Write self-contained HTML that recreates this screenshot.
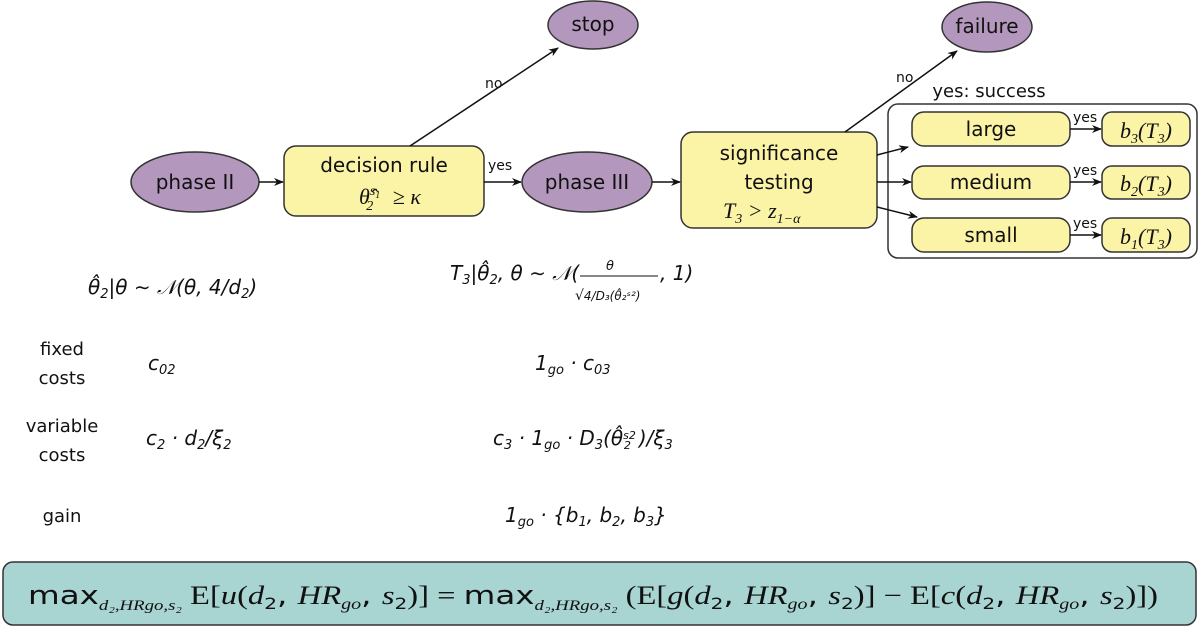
<!DOCTYPE html>
<html><head><meta charset="utf-8"><style>
html,body{margin:0;padding:0;background:#fff;width:1200px;height:629px;overflow:hidden}
svg{display:block}
text{font-family:"DejaVu Sans","Liberation Sans",sans-serif;fill:#111}
.m{font-family:"Liberation Serif","DejaVu Serif",serif;font-style:italic}
.r{font-family:"Liberation Serif","DejaVu Serif",serif}
</style></head><body>
<svg width="1200" height="629" viewBox="0 0 1200 629" xmlns="http://www.w3.org/2000/svg">
<defs><marker id="a" markerWidth="10" markerHeight="8" refX="9" refY="4" orient="auto" markerUnits="userSpaceOnUse"><path d="M0,0 L10,4 L0,8 L3,4 z" fill="#111"/></marker></defs>
<g stroke="#333" stroke-width="1.5">
<ellipse cx="195" cy="182" rx="64" ry="30" fill="#b497bd"/>
<rect x="284" y="146" width="200" height="70" rx="12" fill="#fbf3a5"/>
<ellipse cx="587" cy="182" rx="65" ry="30" fill="#b497bd"/>
<ellipse cx="593" cy="25" rx="45" ry="24" fill="#b497bd"/>
<rect x="681" y="132" width="196" height="96" rx="12" fill="#fbf3a5"/>
<ellipse cx="987" cy="27" rx="45" ry="25" fill="#b497bd"/>
<rect x="888" y="104" width="309" height="154" rx="10" fill="#fff"/>
<rect x="912" y="112" width="158" height="34" rx="12" fill="#fbf3a5"/>
<rect x="912" y="166" width="158" height="33" rx="12" fill="#fbf3a5"/>
<rect x="912" y="218" width="158" height="34" rx="12" fill="#fbf3a5"/>
<rect x="1102" y="112" width="88" height="34" rx="10" fill="#fbf3a5"/>
<rect x="1102" y="166" width="88" height="33" rx="10" fill="#fbf3a5"/>
<rect x="1102" y="218" width="88" height="34" rx="10" fill="#fbf3a5"/>
<rect x="3" y="562" width="1193" height="63" rx="10" fill="#a8d4d2"/>
</g>
<g stroke="#111" stroke-width="1.5" marker-end="url(#a)">
<line x1="259" y1="182" x2="283" y2="182"/>
<line x1="484" y1="182" x2="521" y2="182"/>
<line x1="410" y1="146" x2="558" y2="48"/>
<line x1="652" y1="182" x2="680" y2="182"/>
<line x1="845" y1="132" x2="957" y2="51"/>
<line x1="877" y1="155" x2="908" y2="147"/>
<line x1="877" y1="182" x2="911" y2="182"/>
<line x1="877" y1="207" x2="917" y2="217"/>
<line x1="1070" y1="129" x2="1101" y2="129"/>
<line x1="1070" y1="182" x2="1101" y2="182"/>
<line x1="1070" y1="235" x2="1101" y2="235"/>
</g>
<g font-size="20" text-anchor="middle">
<text x="195" y="189">phase II</text>
<text x="384" y="172">decision rule</text>
<text x="587" y="189">phase III</text>
<text x="593" y="31">stop</text>
<text x="779" y="160">significance</text>
<text x="779" y="189">testing</text>
<text x="987" y="33">failure</text>
<text x="991" y="136">large</text>
<text x="991" y="189">medium</text>
<text x="991" y="242">small</text>
<text x="989" y="97" font-size="18">yes: success</text>
</g>
<g font-size="14">
<text x="485" y="88">no</text><text x="488" y="170">yes</text>
<text x="896" y="82">no</text>
<text x="1073" y="122">yes</text><text x="1073" y="175">yes</text><text x="1073" y="228">yes</text>
</g>
<g font-size="22">
<text x="359" y="204" class="m">θ̂<tspan font-size="14" dy="-9">s</tspan><tspan font-size="10" dy="3">1</tspan><tspan font-size="14" dx="-14" dy="12" class="r">2</tspan><tspan dy="-6" dx="14" class="r">  ≥  κ</tspan></text>
<text x="723" y="218" class="m">T<tspan font-size="14" dy="5" class="r">3</tspan><tspan dy="-5" class="r">  &gt;  </tspan>z<tspan font-size="14" dy="5" class="r">1−α</tspan></text>
<text x="1146" y="138" text-anchor="middle" class="m">b<tspan font-size="14" dy="5">3</tspan><tspan dy="-5">(T</tspan><tspan font-size="14" dy="5">3</tspan><tspan dy="-5">)</tspan></text>
<text x="1146" y="191" text-anchor="middle" class="m">b<tspan font-size="14" dy="5">2</tspan><tspan dy="-5">(T</tspan><tspan font-size="14" dy="5">3</tspan><tspan dy="-5">)</tspan></text>
<text x="1146" y="244" text-anchor="middle" class="m">b<tspan font-size="14" dy="5">1</tspan><tspan dy="-5">(T</tspan><tspan font-size="14" dy="5">3</tspan><tspan dy="-5">)</tspan></text>
</g>
<g font-size="20" class="m">
<text x="88" y="294">θ̂<tspan font-size="13" dy="4">2</tspan><tspan dy="-4">|θ ∼ 𝒩(θ, 4/d</tspan><tspan font-size="13" dy="4">2</tspan><tspan dy="-4">)</tspan></text>
<text x="450" y="280">T<tspan font-size="13" dy="4">3</tspan><tspan dy="-4">|θ̂</tspan><tspan font-size="13" dy="4">2</tspan><tspan dy="-4">, θ ∼ 𝒩(</tspan></text>
<text x="660" y="280">, 1)</text>
<text x="610" y="270" font-size="13" text-anchor="middle">θ</text>
<line x1="580" y1="276" x2="658" y2="276" stroke="#111" stroke-width="1"/>
<text x="575" y="300" font-size="14">√<tspan font-size="12">4/D₃(θ̂₂ˢ²)</tspan></text>
<text x="148" y="370">c<tspan font-size="13" dy="4">02</tspan></text>
<text x="535" y="370">1<tspan font-size="13" dy="4">go</tspan><tspan dy="-4"> · c</tspan><tspan font-size="13" dy="4">03</tspan></text>
<text x="146" y="445">c<tspan font-size="13" dy="4">2</tspan><tspan dy="-4"> · d</tspan><tspan font-size="13" dy="4">2</tspan><tspan dy="-4">/ξ</tspan><tspan font-size="13" dy="4">2</tspan></text>
<text x="493" y="445">c<tspan font-size="13" dy="4">3</tspan><tspan dy="-4"> · 1</tspan><tspan font-size="13" dy="4">go</tspan><tspan dy="-4"> · D</tspan><tspan font-size="13" dy="4">3</tspan><tspan dy="-4">(θ̂</tspan><tspan font-size="11" dy="-6">s2</tspan><tspan font-size="11" dx="-12" dy="10">2</tspan><tspan dy="-4" dx="8">)/ξ</tspan><tspan font-size="13" dy="4">3</tspan></text>
<text x="505" y="522">1<tspan font-size="13" dy="4">go</tspan><tspan dy="-4"> · {b</tspan><tspan font-size="13" dy="4">1</tspan><tspan dy="-4">, b</tspan><tspan font-size="13" dy="4">2</tspan><tspan dy="-4">, b</tspan><tspan font-size="13" dy="4">3</tspan><tspan dy="-4">}</tspan></text>
</g>
<g font-size="18" text-anchor="middle">
<text x="62" y="355">fixed</text><text x="62" y="384">costs</text>
<text x="62" y="432">variable</text><text x="62" y="461">costs</text>
<text x="62" y="522">gain</text>
</g>
<text x="28" y="604" font-size="26" textLength="1130" lengthAdjust="spacingAndGlyphs">max<tspan font-size="15" dy="6" class="m">d₂,HRgo,s₂</tspan><tspan dy="-6" class="r"> E[</tspan><tspan class="m">u</tspan><tspan class="r">(</tspan><tspan class="m">d</tspan><tspan font-size="16" dy="5">2</tspan><tspan dy="-5">, </tspan><tspan class="m">HR</tspan><tspan class="m" font-size="16" dy="5">go</tspan><tspan dy="-5">, </tspan><tspan class="m">s</tspan><tspan font-size="16" dy="5">2</tspan><tspan dy="-5" class="r">)] = </tspan>max<tspan font-size="15" dy="6" class="m">d₂,HRgo,s₂</tspan><tspan dy="-6" class="r"> (E[</tspan><tspan class="m">g</tspan><tspan class="r">(</tspan><tspan class="m">d</tspan><tspan font-size="16" dy="5">2</tspan><tspan dy="-5">, </tspan><tspan class="m">HR</tspan><tspan class="m" font-size="16" dy="5">go</tspan><tspan dy="-5">, </tspan><tspan class="m">s</tspan><tspan font-size="16" dy="5">2</tspan><tspan dy="-5" class="r">)] − E[</tspan><tspan class="m">c</tspan><tspan class="r">(</tspan><tspan class="m">d</tspan><tspan font-size="16" dy="5">2</tspan><tspan dy="-5">, </tspan><tspan class="m">HR</tspan><tspan class="m" font-size="16" dy="5">go</tspan><tspan dy="-5">, </tspan><tspan class="m">s</tspan><tspan font-size="16" dy="5">2</tspan><tspan dy="-5" class="r">)])</tspan></text>
</svg>
</body></html>
